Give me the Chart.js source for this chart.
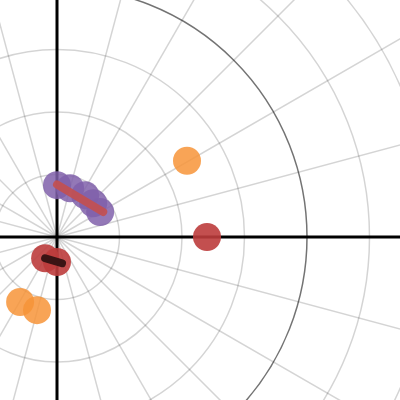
<!DOCTYPE html>
<html><head><meta charset="utf-8">
<script src="https://cdn.jsdelivr.net/npm/chart.js@4/dist/chart.umd.min.js"></script>
<style>html,body{margin:0;padding:0;background:#fff}#wrap{width:400px;height:400px}</style>
</head><body><div id="wrap"><canvas id="c"></canvas></div>
<script>
// polar-style scatter, values in plot units
const orangeX = [2.08, -0.59, -0.32];
const orangeY = [1.22, -1.04, -1.17];
const redX = [2.4, -0.19, 0.0];
const redY = [0.0, -0.34, -0.4];
const purpleX = [0.0, 0.21, 0.45, 0.58, 0.69];
const purpleY = [0.83, 0.78, 0.67, 0.54, 0.4];
const redLineX = [0.0, 0.74];
const redLineY = [0.84, 0.4];
const darkLineX = [-0.19, 0.08];
const darkLineY = [-0.34, -0.42];
const ringRadii = [1, 2, 3, 4, 5, 6, 7];
const boldRing = 4;

const pts = (xs, ys) => xs.map((x, i) => ({x: x, y: ys[i]}));

const polarGrid = {
	id: 'polarGrid',
	beforeDatasetsDraw(chart) {
		const ctx = chart.ctx, sx = chart.scales.x, sy = chart.scales.y;
		const ox = sx.getPixelForValue(0), oy = sy.getPixelForValue(0);
		const unit = sx.getPixelForValue(1) - ox;
		ctx.save();
		ctx.beginPath();
		ctx.rect(chart.chartArea.left, chart.chartArea.top, chart.chartArea.width, chart.chartArea.height);
		ctx.clip();
		ctx.strokeStyle = 'rgba(0,0,0,0.17)';
		ctx.lineWidth = 1.5;
		for (let a = 0; a < 360; a += 15) {
			const r = a * Math.PI / 180;
			ctx.beginPath();
			ctx.moveTo(ox, oy);
			ctx.lineTo(ox + Math.cos(r) * 800, oy - Math.sin(r) * 800);
			ctx.stroke();
		}
		ringRadii.forEach(rr => {
			ctx.beginPath();
			ctx.arc(ox, oy, rr * unit, 0, Math.PI * 2);
			if (rr === boldRing) { ctx.strokeStyle = 'rgba(0,0,0,0.55)'; ctx.lineWidth = 1.5; }
			else { ctx.strokeStyle = 'rgba(0,0,0,0.17)'; ctx.lineWidth = 1.5; }
			ctx.stroke();
		});
		ctx.strokeStyle = '#000';
		ctx.lineWidth = 3;
		ctx.beginPath();
		ctx.moveTo(chart.chartArea.left, oy); ctx.lineTo(chart.chartArea.right, oy);
		ctx.moveTo(ox, chart.chartArea.top); ctx.lineTo(ox, chart.chartArea.bottom);
		ctx.stroke();
		ctx.restore();
	}
};

new Chart(document.getElementById('c'), {
	type: 'scatter',
	data: {
		datasets: [
			{data: pts(orangeX, orangeY), backgroundColor: 'rgba(247,148,56,0.85)', pointRadius: 14, borderWidth: 0, order: 2},
			{data: pts(redX, redY), backgroundColor: 'rgba(188,60,60,0.9)', pointRadius: 14, borderWidth: 0, order: 2},
			{data: pts(purpleX, purpleY), backgroundColor: 'rgba(128,96,170,0.85)', pointRadius: 14, borderWidth: 0, order: 2},
			{data: pts(redLineX, redLineY), showLine: true, borderColor: 'rgba(196,80,80,0.9)', borderWidth: 8, pointRadius: 0, borderCapStyle: 'round', order: 1},
			{data: pts(darkLineX, darkLineY), showLine: true, borderColor: '#3a1414', borderWidth: 8, pointRadius: 0, borderCapStyle: 'round', order: 0}
		]
	},
	options: {
		responsive: true, maintainAspectRatio: false, animation: false,
		layout: {padding: 0, autoPadding: false},
		plugins: {legend: {display: false}, tooltip: {enabled: false}},
		scales: {
			x: {type: 'linear', min: -0.912, max: 5.488, display: false},
			y: {type: 'linear', min: -2.608, max: 3.792, display: false}
		}
	},
	plugins: [polarGrid]
});
</script></body></html>
